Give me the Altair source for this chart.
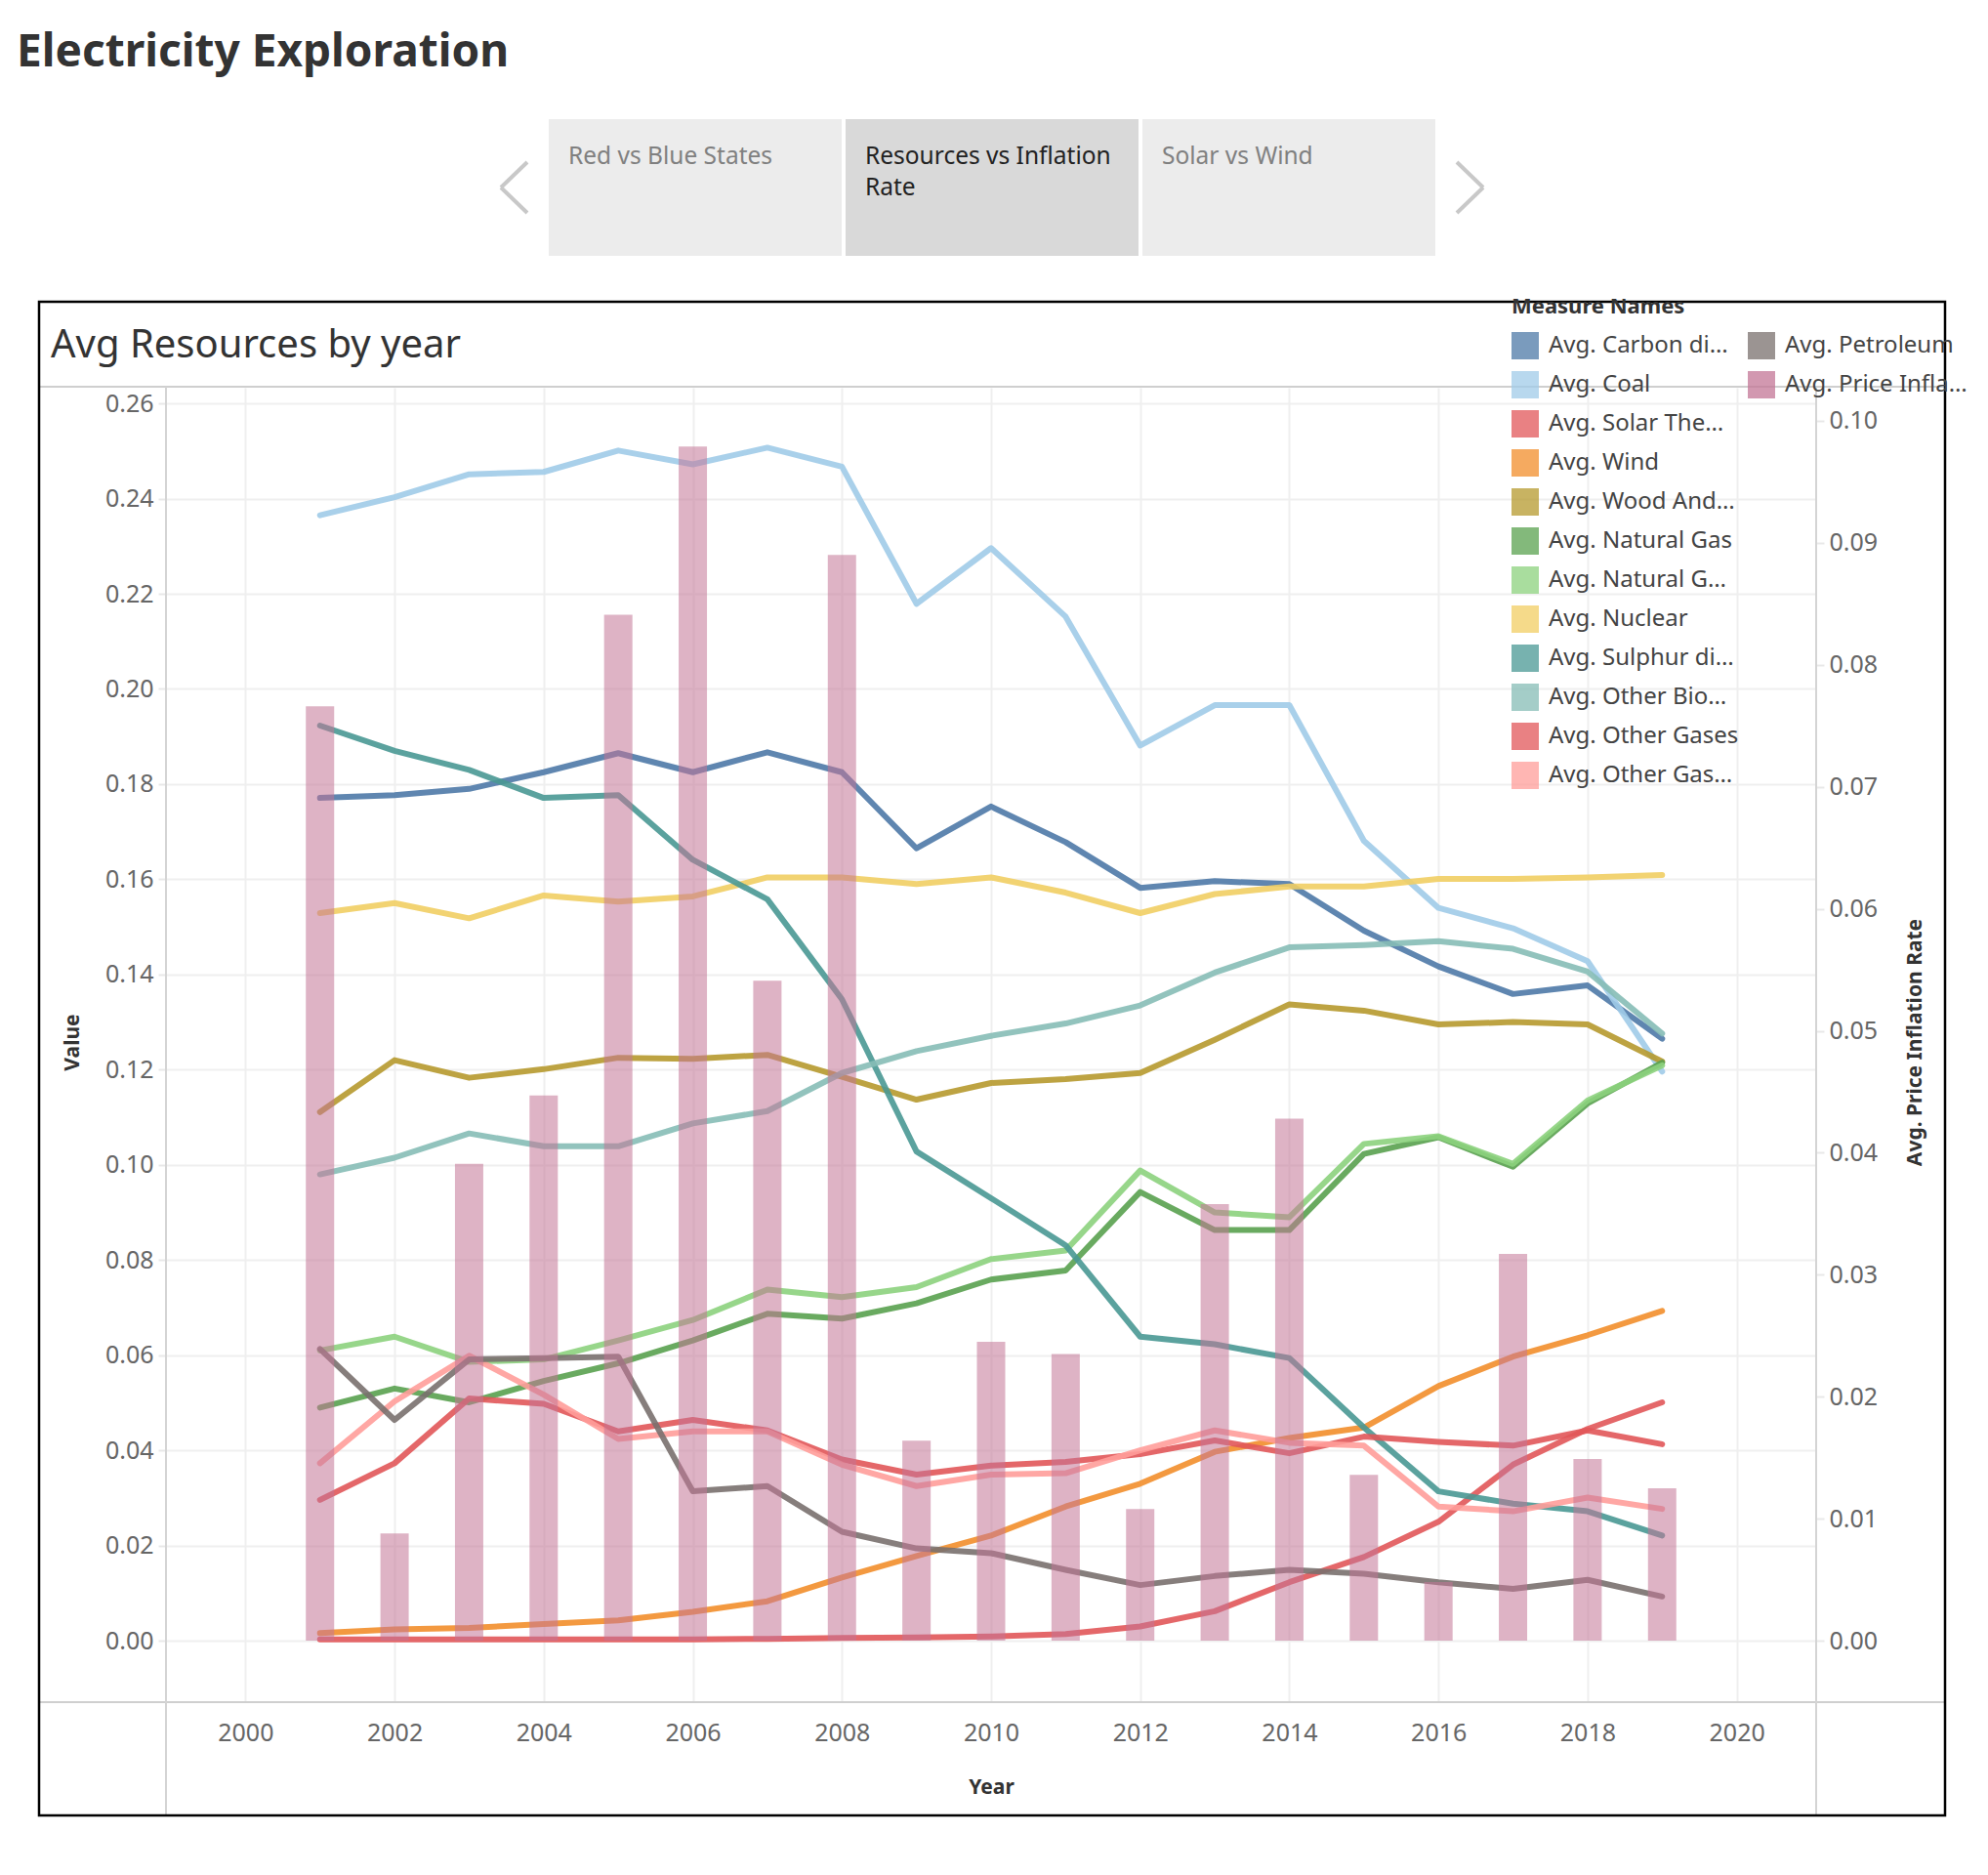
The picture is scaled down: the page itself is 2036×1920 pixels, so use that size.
import altair as alt
import pandas as pd

# ---------------- data ----------------
years = list(range(2001, 2020))

carbon = [0.1771, 0.1777, 0.1790, 0.1825, 0.1865, 0.1825, 0.1867, 0.1825, 0.1665, 0.1753,
          0.1678, 0.1582, 0.1596, 0.1590, 0.1492, 0.1417, 0.1359, 0.1377, 0.1265]
coal = [0.2365, 0.2403, 0.2451, 0.2456, 0.2501, 0.2472, 0.2507, 0.2467, 0.2179, 0.2296,
        0.2152, 0.1881, 0.1966, 0.1966, 0.1681, 0.1540, 0.1497, 0.1428, 0.1196]
solar_thermal = [0.0003, 0.0003, 0.0003, 0.0003, 0.0003, 0.0003, 0.0004, 0.0006, 0.0007, 0.0009,
                 0.0014, 0.0030, 0.0062, 0.0123, 0.0176, 0.0250, 0.0370, 0.0445, 0.0501]
wind = [0.0016, 0.0024, 0.0027, 0.0035, 0.0043, 0.0061, 0.0083, 0.0133, 0.0178, 0.0221,
        0.0282, 0.0330, 0.0397, 0.0426, 0.0448, 0.0535, 0.0597, 0.0642, 0.0693]
wood = [0.1111, 0.1220, 0.1183, 0.1201, 0.1225, 0.1223, 0.1231, 0.1185, 0.1137, 0.1172,
        0.1180, 0.1193, 0.1263, 0.1337, 0.1324, 0.1295, 0.1300, 0.1295, 0.1217]
natural_gas = [0.0490, 0.0530, 0.0501, 0.0546, 0.0583, 0.0631, 0.0687, 0.0677, 0.0709, 0.0759,
               0.0778, 0.0943, 0.0863, 0.0863, 0.1023, 0.1058, 0.0996, 0.1129, 0.1215]
natural_gas_2 = [0.0610, 0.0639, 0.0586, 0.0591, 0.0631, 0.0674, 0.0738, 0.0722, 0.0743, 0.0802,
                 0.0820, 0.0988, 0.0900, 0.0890, 0.1044, 0.1060, 0.1002, 0.1135, 0.1209]
nuclear = [0.1529, 0.1550, 0.1518, 0.1566, 0.1553, 0.1564, 0.1604, 0.1604, 0.1590, 0.1604,
           0.1572, 0.1529, 0.1569, 0.1585, 0.1585, 0.1601, 0.1601, 0.1604, 0.1609]
sulphur = [0.1923, 0.1870, 0.1830, 0.1771, 0.1777, 0.1641, 0.1558, 0.1348, 0.1028, 0.0930,
           0.0831, 0.0639, 0.0623, 0.0594, 0.0448, 0.0314, 0.0288, 0.0272, 0.0221]
other_bio = [0.0980, 0.1015, 0.1066, 0.1039, 0.1039, 0.1087, 0.1113, 0.1193, 0.1239, 0.1271,
             0.1297, 0.1335, 0.1404, 0.1457, 0.1462, 0.1470, 0.1454, 0.1406, 0.1276]
other_gases = [0.0296, 0.0373, 0.0509, 0.0498, 0.0440, 0.0464, 0.0442, 0.0381, 0.0349, 0.0368,
               0.0376, 0.0392, 0.0421, 0.0394, 0.0429, 0.0418, 0.0410, 0.0442, 0.0413]
other_gas_2 = [0.0373, 0.0503, 0.0599, 0.0517, 0.0424, 0.0440, 0.0440, 0.0370, 0.0325, 0.0349,
               0.0352, 0.0400, 0.0442, 0.0416, 0.0410, 0.0282, 0.0272, 0.0301, 0.0277]
petroleum = [0.0613, 0.0464, 0.0591, 0.0594, 0.0597, 0.0314, 0.0325, 0.0229, 0.0194, 0.0184,
             0.0149, 0.0117, 0.0136, 0.0149, 0.0141, 0.0123, 0.0109, 0.0128, 0.0093]
price_inflation = [0.0766, 0.0088, 0.0391, 0.0447, 0.0841, 0.0979, 0.0541, 0.0890, 0.0164, 0.0245,
                   0.0235, 0.0108, 0.0358, 0.0428, 0.0136, 0.0048, 0.0317, 0.0149, 0.0125]

line_names = ["Avg. Carbon di…", "Avg. Coal", "Avg. Solar The…", "Avg. Wind", "Avg. Wood And…",
              "Avg. Natural Gas", "Avg. Natural G…", "Avg. Nuclear", "Avg. Sulphur di…",
              "Avg. Other Bio…", "Avg. Other Gases", "Avg. Other Gas…", "Avg. Petroleum"]
line_values = [carbon, coal, solar_thermal, wind, wood, natural_gas, natural_gas_2, nuclear,
               sulphur, other_bio, other_gases, other_gas_2, petroleum]
price_name = "Avg. Price Infla…"

line_colors = ["#4e79a7", "#a0cbe8", "#e15759", "#f28e2b", "#b6992d", "#59a14f", "#8cd17d",
               "#f1ce63", "#499894", "#86bcb6", "#e15759", "#ff9d9a", "#79706e"]
price_color = "#c37596"

tab_labels = ["Red vs Blue States", "Resources vs Inflation", "Solar vs Wind"]
dashboard_title = "Electricity Exploration"
sheet_title = "Avg Resources by year"
y_ticks = [round(i * 0.02, 2) for i in range(14)]
y2_ticks = [round(i * 0.01, 2) for i in range(11)]
x_ticks = list(range(2000, 2021, 2))

# ---------------- tables ----------------
long = pd.DataFrame(
    [{"Year": y, "Measure": n, "Value": v}
     for n, vals in zip(line_names, line_values) for y, v in zip(years, vals)]
)
bars_df = pd.DataFrame({"Year": years, "Measure": [price_name] * len(years), "Rate": price_inflation})

all_names = line_names + [price_name]
all_colors = line_colors + [price_color]
col1_names = line_names[:-1]
col1_colors = line_colors[:-1]
col2_names = [line_names[-1], price_name]
col2_colors = [line_colors[-1], price_color]

# ---------------- layout constants ----------------
FONT = "Noto Sans"
W, H = 1690, 1346

xscale = alt.Scale(domain=[1999, 2021], nice=False, zero=False)
yscale = alt.Scale(domain=[-0.0129, 0.2633], nice=False, zero=False)
y2scale = alt.Scale(domain=[-0.00504, 0.10272], nice=False, zero=False)

x_axis = alt.Axis(title="Year", values=x_ticks, format="d", domain=False, ticks=False,
                  labelPadding=31, labelBaseline="middle", labelFlush=False,
                  labelFont=FONT, labelFontSize=25, labelColor="#666666",
                  grid=True, gridColor="#efefef", gridWidth=2,
                  titleFont=FONT, titleFontSize=21, titleFontWeight="bold", titleColor="#333333",
                  titleY=87, titleBaseline="middle")
y_axis = alt.Axis(title="Value", values=y_ticks, format=".2f", orient="left", domain=False,
                  tickSize=8, tickColor="#e8e8e8", tickWidth=2, labelPadding=5,
                  labelFont=FONT, labelFontSize=25, labelColor="#666666",
                  grid=True, gridColor="#efefef", gridWidth=2,
                  titleFont=FONT, titleFontSize=21, titleFontWeight="bold", titleColor="#333333",
                  titleAngle=270, titleX=-96, titleY=670, titleBaseline="middle", titleAlign="center")
y2_axis = alt.Axis(title="Avg. Price Inflation Rate", values=y2_ticks, format=".2f", orient="right",
                   domain=False, tickSize=8, tickColor="#e8e8e8", tickWidth=2, labelPadding=5,
                   labelFont=FONT, labelFontSize=25, labelColor="#666666", grid=False,
                   titleFont=FONT, titleFontSize=21, titleFontWeight="bold", titleColor="#333333",
                   titleAngle=270, titleX=101, titleY=670, titleBaseline="middle", titleAlign="center")

legend_common = dict(orient="none", symbolType="square", symbolSize=784, symbolOpacity=0.75,
                     symbolStrokeWidth=0, labelFont=FONT, labelFontSize=24, labelColor="#444444",
                     labelLimit=500, labelOffset=10, rowPadding=12, padding=0, direction="vertical")

# ---------------- data layers ----------------
lines = alt.Chart(long).mark_line(strokeWidth=6, opacity=0.9, strokeCap="round", strokeJoin="round").encode(
    x=alt.X("Year:Q", scale=xscale, axis=x_axis),
    y=alt.Y("Value:Q", scale=yscale, axis=y_axis),
    stroke=alt.Stroke("Measure:N", scale=alt.Scale(domain=line_names, range=line_colors),
                      legend=None, sort=line_names),
)

legend_a = alt.Chart(pd.DataFrame({"Measure": col1_names})).transform_filter(
    alt.datum.Measure == "none"
).mark_square().encode(
    fill=alt.Fill("Measure:N", scale=alt.Scale(domain=col1_names, range=col1_colors),
                  legend=alt.Legend(title="Measure Names", values=col1_names, legendX=1378, legendY=-93,
                                    titleFont=FONT, titleFontSize=22, titleFontWeight="bold",
                                    titleColor="#333333", titlePadding=14, **legend_common)),
)

legend_b = alt.Chart(pd.DataFrame({"Measure": col2_names})).transform_filter(
    alt.datum.Measure == "none"
).mark_square().encode(
    color=alt.Color("Measure:N", scale=alt.Scale(domain=col2_names, range=col2_colors),
                    legend=alt.Legend(title=None, values=col2_names,
                                      legendX=1620, legendY=-57, **legend_common)),
)

bars = alt.Chart(bars_df).mark_bar(size=29, opacity=0.55, color=price_color).encode(
    x=alt.X("Year:Q", scale=xscale, axis=x_axis),
    y=alt.Y("Rate:Q", scale=y2scale, axis=y2_axis),
)

data_layer = alt.layer(alt.layer(lines, legend_a, legend_b), bars).resolve_scale(y="independent")

# ---------------- dashboard decoration ----------------
one = pd.DataFrame({"k": [0]})


def text_mark(s, x, y, size, color, weight="normal"):
    return alt.Chart(one).mark_text(text=s, align="left", baseline="alphabetic", font=FONT,
                                    fontSize=size, fontWeight=weight, color=color).encode(
        x=alt.value(x), y=alt.value(y))


def rule_mark(x1, y1, x2, y2, color, width):
    return alt.Chart(one).mark_rule(color=color, strokeWidth=width).encode(
        x=alt.value(x1), y=alt.value(y1), x2=alt.value(x2), y2=alt.value(y2))


def rect_mark(x1, y1, x2, y2, fill):
    return alt.Chart(one).mark_rect(color=fill).encode(
        x=alt.value(x1), y=alt.value(y1), x2=alt.value(x2), y2=alt.value(y2))


tab_x = [392, 696, 1000]
tab_w = 300
tab_fill = ["#ececec", "#d9d9d9", "#ececec"]
tab_text_color = ["#808080", "#222222", "#808080"]

decor = []
for i, lab in enumerate(tab_labels):
    decor.append(rect_mark(tab_x[i], -275, tab_x[i] + tab_w, -135, tab_fill[i]))
    decor.append(text_mark(lab, tab_x[i] + 20, -229, 24.5, tab_text_color[i]))
decor.append(text_mark("Rate", tab_x[1] + 20, -197, 24.5, tab_text_color[1]))
# chevrons
decor += [rule_mark(370, -231, 343, -205, "#c8c8c8", 4), rule_mark(343, -205, 370, -179, "#c8c8c8", 4),
          rule_mark(1322, -231, 1349, -205, "#c8c8c8", 4), rule_mark(1349, -205, 1322, -179, "#c8c8c8", 4)]
decor.append(text_mark(dashboard_title, -153, -329, 46, "#333333", "bold"))
decor.append(text_mark(sheet_title, -118, -31, 40, "#333333"))
# pane lines
decor += [rule_mark(-130, -1, W + 132, -1, "#cfcfcf", 2),
          rule_mark(-130, H, W + 132, H, "#cfcfcf", 2),
          rule_mark(0, -1, 0, H + 116, "#d4d4d4", 2),
          rule_mark(W, -1, W, H + 116, "#d4d4d4", 2)]
frame = alt.Chart(one).mark_rect(fillOpacity=0, stroke="#000000", strokeWidth=2.5).encode(
    x=alt.value(-130), y=alt.value(-88), x2=alt.value(W + 132), y2=alt.value(H + 116))

chart = alt.layer(data_layer, *decor, frame).properties(
    width=W, height=H,
    padding={"left": 162, "top": 389, "right": 168, "bottom": 150},
    autosize=alt.AutoSizeParams(type="none"),
    background="white",
).configure_view(stroke="transparent")

chart.save("out.html", embed_options={"renderer": "svg", "actions": False})
